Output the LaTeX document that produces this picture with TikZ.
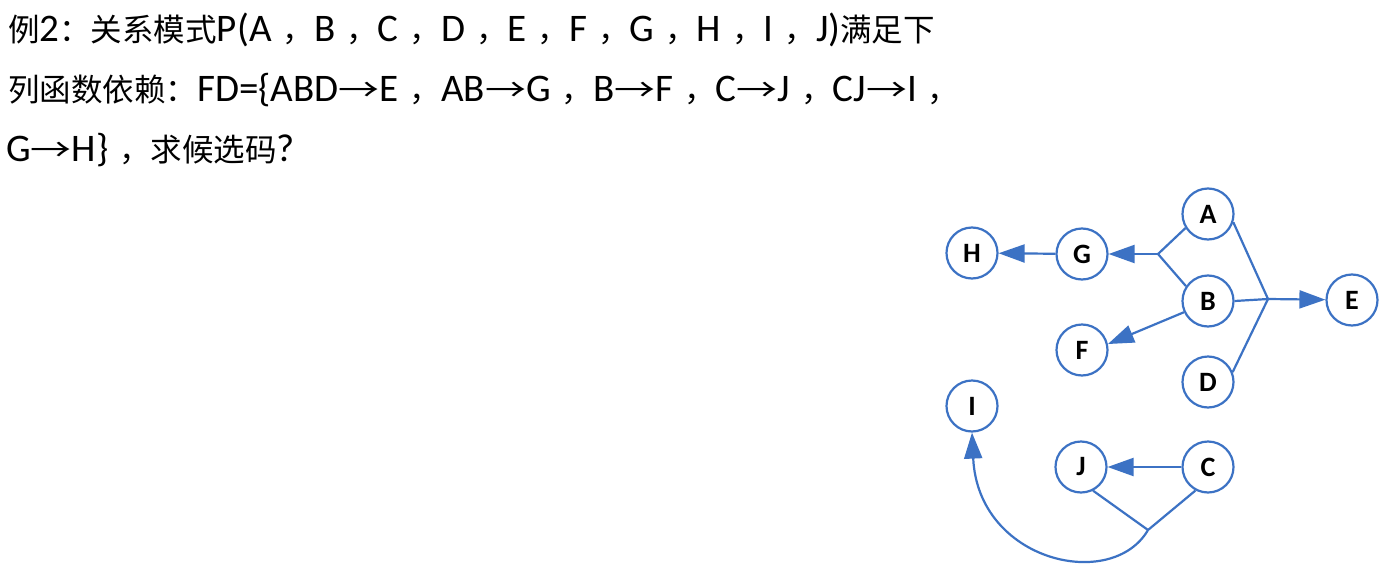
\documentclass[tikz,border=0pt]{standalone}
\usepackage{fontspec}
\usepackage{graphicx}
\setmainfont{Noto Sans CJK SC}
\newfontfamily\latf[Scale=1.24]{Carlito}
\newfontfamily\vtxfont{Carlito}
\newcommand{\la}[1]{{\latf #1}}
\newcommand{\cm}{\kern11pt，}
\newcommand{\ar}{\scalebox{1.3}[1]{→}}
\usetikzlibrary{arrows.meta}
\definecolor{lnblue}{RGB}{60,114,196}
\begin{document}
\begin{tikzpicture}[x=1pt,y=-1pt,
  vtx/.style={circle,draw=lnblue,line width=2.2pt,minimum size=51pt,inner sep=0pt,font=\vtxfont\fontsize{28}{28}\selectfont\bfseries},
  edge/.style={draw=lnblue,line width=2.2pt},
  arr/.style={edge,-{Triangle[length=26pt,width=18pt]}},
  txt/.style={anchor=base west,inner sep=0pt,font=\fontsize{31.5}{32}\selectfont}]
\useasboundingbox (0,0) rectangle (1387,570);
\fill[white] (0,0) rectangle (1387,570);
\node[txt] (t1) at (8,41) {例\la{2}：关系模式\la{P(A}\cm\la{B}\cm\la{C}\cm\la{D}\cm\la{E}\cm\la{F}\cm\la{G}\cm\la{H}\cm\la{I}\cm\la{J)}满足下};
\node[txt] (t2) at (8,101) {列函数依赖：\la{FD=\{ABD}\ar\la{E}\cm\la{AB}\ar\la{G}\cm\la{B}\ar\la{F}\cm\la{C}\ar\la{J}\cm\la{CJ}\ar\la{I}\cm};
\node[txt] (t3) at (6,161) {\la{G}\ar\la{H\}}\cm 求候选码\la{?}};
\node[vtx] (A) at (1208,214) {A};
\node[vtx] (G) at (1082,254) {G};
\node[vtx] (H) at (972,253) {H};
\node[vtx] (B) at (1208,301) {B};
\node[vtx] (E) at (1352,300) {E};
\node[vtx] (F) at (1082,350) {F};
\node[vtx] (D) at (1208,382) {D};
\node[vtx] (I) at (972,406) {I};
\node[vtx] (J) at (1081,467) {J};
\node[vtx] (C) at (1208,467) {C};
\coordinate (jAB) at (1158,254);
\coordinate (jABD) at (1268,299);
\coordinate (jCJ) at (1148,530);
\draw[edge] (A.212) -- (jAB);
\draw[edge] (B.146) -- (jAB);
\draw[arr] (jAB) -- (G);
\draw[arr] (G) -- (H);
\draw[edge] (A.-18) -- (jABD);
\draw[edge] (D.22) -- (jABD);
\draw[edge] (B.east) -- (jABD);
\draw[arr] (jABD) -- (E);
\draw[arr] (B.205) -- (F.13);
\draw[arr] (C) -- (J);
\draw[edge] (J.-63) -- (jCJ);
\draw[edge] (C.242) -- (jCJ);
\draw[arr] (jCJ) .. controls (1112,592) and (978,562) .. (I.south);
\end{tikzpicture}
\end{document}
